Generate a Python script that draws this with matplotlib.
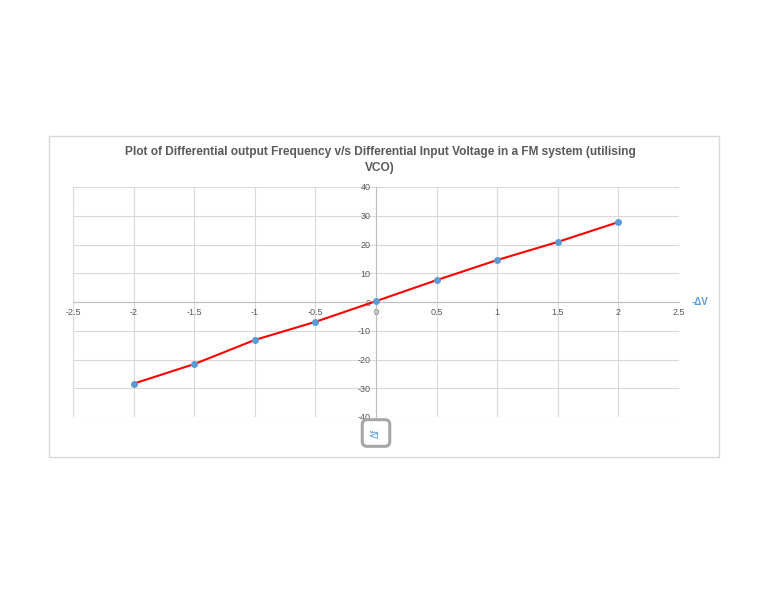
import matplotlib
matplotlib.use("Agg")
import matplotlib.pyplot as plt
from matplotlib.patches import Rectangle

# Data
delta_v = [-2, -1.5, -1, -0.5, 0, 0.5, 1, 1.5, 2]
delta_f = [-28.4, -21.6, -13.2, -6.9, 0.3, 7.6, 14.6, 20.9, 27.8]
x_ticks = [-2.5, -2, -1.5, -1, -0.5, 0, 0.5, 1, 1.5, 2, 2.5]
y_ticks = [-40, -30, -20, -10, 0, 10, 20, 30, 40]
title = "Plot of Differential output Frequency v/s Differential Input Voltage in a FM system (utilising\nVCO)"

plt.rcParams['font.family'] = ['Liberation Sans Narrow', 'Liberation Sans', 'DejaVu Sans']

W, H = 768, 594
fig = plt.figure(figsize=(W / 100, H / 100), dpi=100)
fig.patch.set_facecolor('white')

# outer chart frame
fig.patches.append(Rectangle((49 / W, 1 - 457 / H), 670 / W, 321 / H,
                             transform=fig.transFigure, fill=False,
                             edgecolor='#d9d9d9', linewidth=1.0))

ax = fig.add_axes([73 / W, 1 - 417 / H, 606 / W, 230 / H])
ax.set_xlim(-2.5, 2.5)
ax.set_ylim(-40, 40)
ax.set_xticks(x_ticks)
ax.set_yticks(y_ticks)
ax.grid(True, color='#d9d9d9', linewidth=0.8)
ax.set_axisbelow(True)
for s in ['top', 'right']:
    ax.spines[s].set_visible(False)
ax.spines['left'].set_position(('data', 0))
ax.spines['bottom'].set_position(('data', 0))
ax.spines['left'].set_color('#bfbfbf')
ax.spines['bottom'].set_color('#bfbfbf')
ax.spines['left'].set_linewidth(0.8)
ax.spines['bottom'].set_linewidth(0.8)
ax.tick_params(axis='both', length=0, labelsize=6.5, labelcolor='#595959', pad=4)
ax.set_xticklabels([f"{t:g}" for t in x_ticks])
ax.set_yticklabels([f"{t:g}" for t in y_ticks])

ax.plot(delta_v, delta_f, color='#ff0000', linewidth=1.5, zorder=3)
ax.plot(delta_v, delta_f, linestyle='none', marker='o', markersize=4,
        color='#5b9bd5', zorder=4)

fig.text(380 / W, 1 - 160 / H, title, ha='center', va='center',
         fontsize=8.6, fontweight='bold', color='#595959', linespacing=1.55)

fig.text(700 / W, 1 - 302 / H, "-\u0394V", ha='center', va='center',
         fontsize=7, fontweight='bold', color='#5b9bd5')

fig.text(376 / W, 1 - 433 / H, "\u0394f", ha='center', va='center',
         rotation=90, fontsize=7, color='#5b9bd5',
         bbox=dict(boxstyle='round,pad=0.9,rounding_size=0.5',
                   facecolor='white', edgecolor='#a6a6a6', linewidth=2.2))

fig.savefig('out.png', dpi=100)
